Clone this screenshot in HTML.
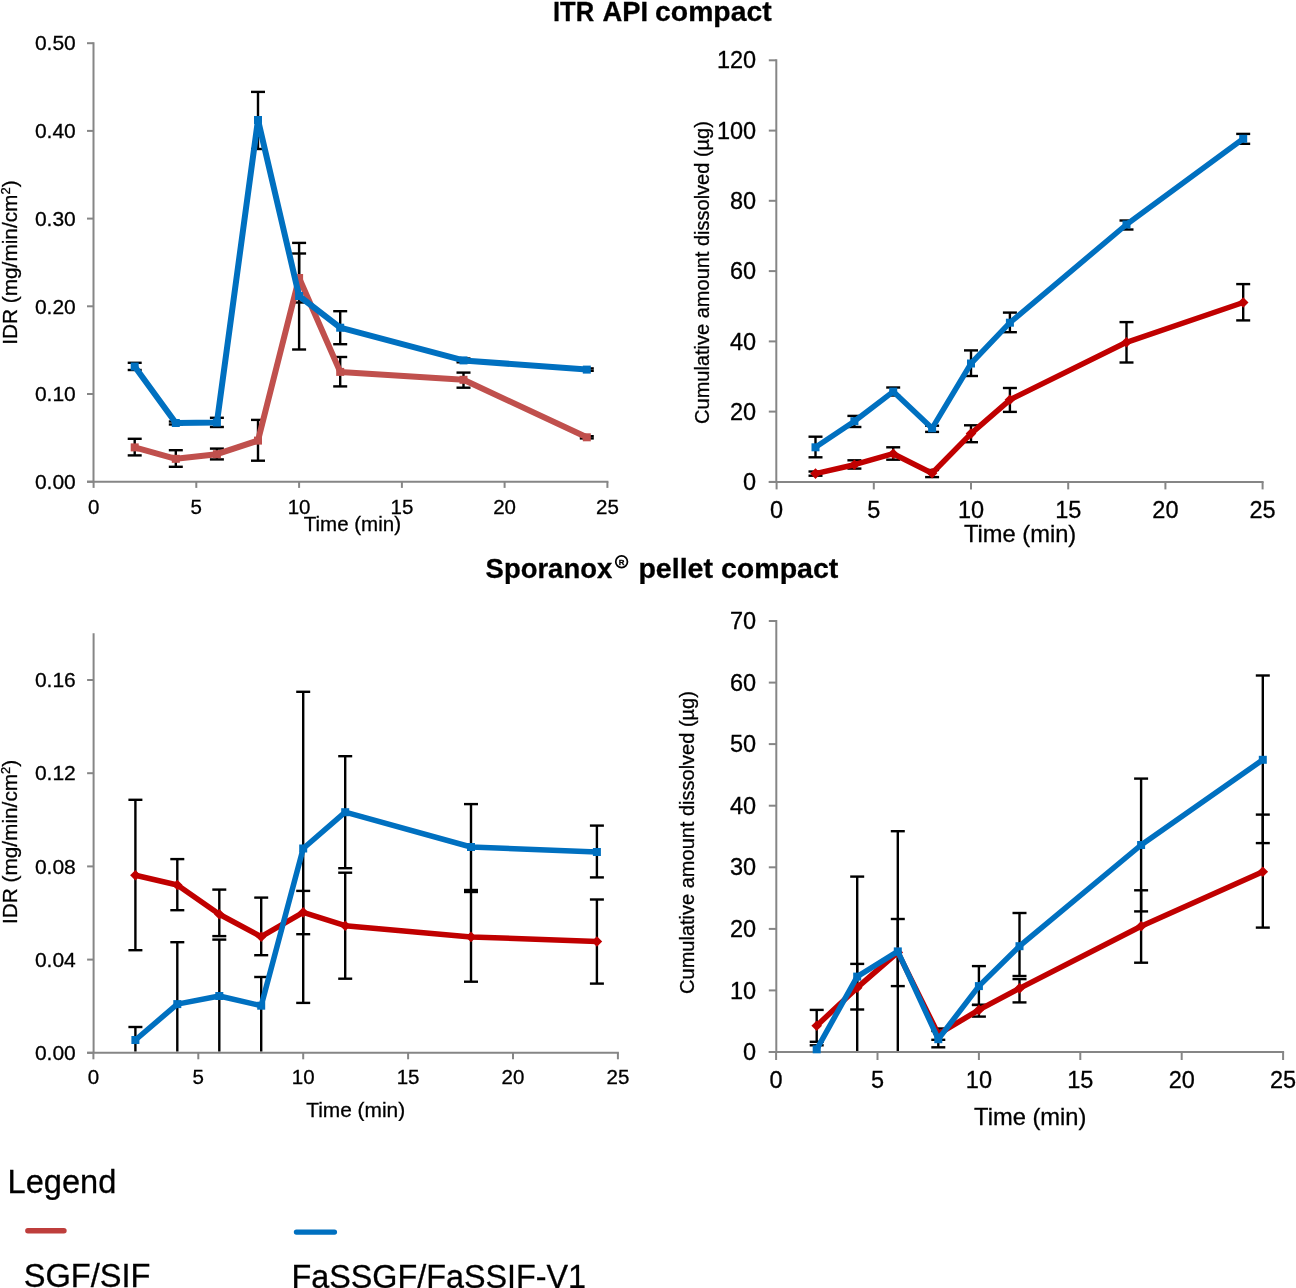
<!DOCTYPE html>
<html><head><meta charset="utf-8"><style>
html,body{margin:0;padding:0;background:#fff;}
svg{display:block;font-family:'Liberation Sans', sans-serif;}
text{filter:grayscale(1);stroke:#000;stroke-width:0.3px;}
</style></head><body>
<svg width="1296" height="1288" viewBox="0 0 1296 1288">
<rect width="1296" height="1288" fill="#fff"/>
<line x1="93.5" y1="42.2" x2="93.5" y2="481.7" stroke="#868686" stroke-width="2"/>
<line x1="87.0" y1="481.7" x2="608.4" y2="481.7" stroke="#868686" stroke-width="2"/>
<line x1="87.0" y1="481.7" x2="93.5" y2="481.7" stroke="#868686" stroke-width="2"/>
<text x="75.8" y="488.9" font-size="21" text-anchor="end">0.00</text>
<line x1="87.0" y1="394.0" x2="93.5" y2="394.0" stroke="#868686" stroke-width="2"/>
<text x="75.8" y="401.2" font-size="21" text-anchor="end">0.10</text>
<line x1="87.0" y1="306.3" x2="93.5" y2="306.3" stroke="#868686" stroke-width="2"/>
<text x="75.8" y="313.5" font-size="21" text-anchor="end">0.20</text>
<line x1="87.0" y1="218.6" x2="93.5" y2="218.6" stroke="#868686" stroke-width="2"/>
<text x="75.8" y="225.8" font-size="21" text-anchor="end">0.30</text>
<line x1="87.0" y1="130.9" x2="93.5" y2="130.9" stroke="#868686" stroke-width="2"/>
<text x="75.8" y="138.1" font-size="21" text-anchor="end">0.40</text>
<line x1="87.0" y1="43.2" x2="93.5" y2="43.2" stroke="#868686" stroke-width="2"/>
<text x="75.8" y="50.4" font-size="21" text-anchor="end">0.50</text>
<line x1="93.6" y1="481.7" x2="93.6" y2="487.9" stroke="#868686" stroke-width="2"/>
<text x="93.6" y="513.6" font-size="20.5" text-anchor="middle">0</text>
<line x1="196.3" y1="481.7" x2="196.3" y2="487.9" stroke="#868686" stroke-width="2"/>
<text x="196.3" y="513.6" font-size="20.5" text-anchor="middle">5</text>
<line x1="299.1" y1="481.7" x2="299.1" y2="487.9" stroke="#868686" stroke-width="2"/>
<text x="299.1" y="513.6" font-size="20.5" text-anchor="middle">10</text>
<line x1="401.9" y1="481.7" x2="401.9" y2="487.9" stroke="#868686" stroke-width="2"/>
<text x="401.9" y="513.6" font-size="20.5" text-anchor="middle">15</text>
<line x1="504.6" y1="481.7" x2="504.6" y2="487.9" stroke="#868686" stroke-width="2"/>
<text x="504.6" y="513.6" font-size="20.5" text-anchor="middle">20</text>
<line x1="607.4" y1="481.7" x2="607.4" y2="487.9" stroke="#868686" stroke-width="2"/>
<text x="607.4" y="513.6" font-size="20.5" text-anchor="middle">25</text>
<text x="352.4" y="531" font-size="20.5" text-anchor="middle">Time (min)</text>
<text transform="translate(16.6,262.6) rotate(-90)" font-size="20.8" text-anchor="middle">IDR (mg/min/cm<tspan font-size="13" dy="-7">2</tspan><tspan dy="7">)</tspan></text>
<line x1="134.7" y1="362.8" x2="134.7" y2="370" stroke="#000" stroke-width="2.4"/>
<line x1="127.69999999999999" y1="362.8" x2="141.7" y2="362.8" stroke="#000" stroke-width="2.4"/>
<line x1="127.69999999999999" y1="370" x2="141.7" y2="370" stroke="#000" stroke-width="2.4"/>
<line x1="175.8" y1="421.5" x2="175.8" y2="424.5" stroke="#000" stroke-width="2.4"/>
<line x1="168.8" y1="421.5" x2="182.8" y2="421.5" stroke="#000" stroke-width="2.4"/>
<line x1="168.8" y1="424.5" x2="182.8" y2="424.5" stroke="#000" stroke-width="2.4"/>
<line x1="216.9" y1="417.8" x2="216.9" y2="427" stroke="#000" stroke-width="2.4"/>
<line x1="209.9" y1="417.8" x2="223.9" y2="417.8" stroke="#000" stroke-width="2.4"/>
<line x1="209.9" y1="427" x2="223.9" y2="427" stroke="#000" stroke-width="2.4"/>
<line x1="258.0" y1="91.9" x2="258.0" y2="149" stroke="#000" stroke-width="2.4"/>
<line x1="251.0" y1="91.9" x2="265.0" y2="91.9" stroke="#000" stroke-width="2.4"/>
<line x1="251.0" y1="149" x2="265.0" y2="149" stroke="#000" stroke-width="2.4"/>
<line x1="299.1" y1="242.9" x2="299.1" y2="349.5" stroke="#000" stroke-width="2.4"/>
<line x1="292.1" y1="242.9" x2="306.1" y2="242.9" stroke="#000" stroke-width="2.4"/>
<line x1="292.1" y1="349.5" x2="306.1" y2="349.5" stroke="#000" stroke-width="2.4"/>
<line x1="340.2" y1="311.2" x2="340.2" y2="344.2" stroke="#000" stroke-width="2.4"/>
<line x1="333.2" y1="311.2" x2="347.2" y2="311.2" stroke="#000" stroke-width="2.4"/>
<line x1="333.2" y1="344.2" x2="347.2" y2="344.2" stroke="#000" stroke-width="2.4"/>
<line x1="463.5" y1="358.5" x2="463.5" y2="362.3" stroke="#000" stroke-width="2.4"/>
<line x1="456.5" y1="358.5" x2="470.5" y2="358.5" stroke="#000" stroke-width="2.4"/>
<line x1="456.5" y1="362.3" x2="470.5" y2="362.3" stroke="#000" stroke-width="2.4"/>
<line x1="586.8" y1="368.4" x2="586.8" y2="370.8" stroke="#000" stroke-width="2.4"/>
<line x1="579.8" y1="368.4" x2="593.8" y2="368.4" stroke="#000" stroke-width="2.4"/>
<line x1="579.8" y1="370.8" x2="593.8" y2="370.8" stroke="#000" stroke-width="2.4"/>
<line x1="134.7" y1="438.8" x2="134.7" y2="455.4" stroke="#000" stroke-width="2.4"/>
<line x1="127.69999999999999" y1="438.8" x2="141.7" y2="438.8" stroke="#000" stroke-width="2.4"/>
<line x1="127.69999999999999" y1="455.4" x2="141.7" y2="455.4" stroke="#000" stroke-width="2.4"/>
<line x1="175.8" y1="450.2" x2="175.8" y2="466.8" stroke="#000" stroke-width="2.4"/>
<line x1="168.8" y1="450.2" x2="182.8" y2="450.2" stroke="#000" stroke-width="2.4"/>
<line x1="168.8" y1="466.8" x2="182.8" y2="466.8" stroke="#000" stroke-width="2.4"/>
<line x1="216.9" y1="448.6" x2="216.9" y2="459.4" stroke="#000" stroke-width="2.4"/>
<line x1="209.9" y1="448.6" x2="223.9" y2="448.6" stroke="#000" stroke-width="2.4"/>
<line x1="209.9" y1="459.4" x2="223.9" y2="459.4" stroke="#000" stroke-width="2.4"/>
<line x1="258.0" y1="419.9" x2="258.0" y2="460.7" stroke="#000" stroke-width="2.4"/>
<line x1="251.0" y1="419.9" x2="265.0" y2="419.9" stroke="#000" stroke-width="2.4"/>
<line x1="251.0" y1="460.7" x2="265.0" y2="460.7" stroke="#000" stroke-width="2.4"/>
<line x1="299.1" y1="253.5" x2="299.1" y2="302.5" stroke="#000" stroke-width="2.4"/>
<line x1="292.1" y1="253.5" x2="306.1" y2="253.5" stroke="#000" stroke-width="2.4"/>
<line x1="292.1" y1="302.5" x2="306.1" y2="302.5" stroke="#000" stroke-width="2.4"/>
<line x1="340.2" y1="357" x2="340.2" y2="386.4" stroke="#000" stroke-width="2.4"/>
<line x1="333.2" y1="357" x2="347.2" y2="357" stroke="#000" stroke-width="2.4"/>
<line x1="333.2" y1="386.4" x2="347.2" y2="386.4" stroke="#000" stroke-width="2.4"/>
<line x1="463.5" y1="372.6" x2="463.5" y2="387.7" stroke="#000" stroke-width="2.4"/>
<line x1="456.5" y1="372.6" x2="470.5" y2="372.6" stroke="#000" stroke-width="2.4"/>
<line x1="456.5" y1="387.7" x2="470.5" y2="387.7" stroke="#000" stroke-width="2.4"/>
<line x1="586.8" y1="436.2" x2="586.8" y2="438.4" stroke="#000" stroke-width="2.4"/>
<line x1="579.8" y1="436.2" x2="593.8" y2="436.2" stroke="#000" stroke-width="2.4"/>
<line x1="579.8" y1="438.4" x2="593.8" y2="438.4" stroke="#000" stroke-width="2.4"/>
<polyline points="134.7,447.4 175.8,458.8 216.9,454.2 258.0,440.6 299.1,278 340.2,371.9 463.5,379.8 586.8,437.3" fill="none" stroke="#C0504D" stroke-width="6" stroke-linejoin="round"/>
<rect x="130.7" y="443.4" width="8" height="8" fill="#C0504D"/>
<rect x="171.8" y="454.8" width="8" height="8" fill="#C0504D"/>
<rect x="212.9" y="450.2" width="8" height="8" fill="#C0504D"/>
<rect x="254.0" y="436.6" width="8" height="8" fill="#C0504D"/>
<rect x="295.1" y="274.0" width="8" height="8" fill="#C0504D"/>
<rect x="336.2" y="367.9" width="8" height="8" fill="#C0504D"/>
<rect x="459.5" y="375.8" width="8" height="8" fill="#C0504D"/>
<rect x="582.8" y="433.3" width="8" height="8" fill="#C0504D"/>
<polyline points="134.7,366.5 175.8,423 216.9,422.5 258.0,120 299.1,296 340.2,327.7 463.5,360.4 586.8,369.6" fill="none" stroke="#0070C0" stroke-width="6" stroke-linejoin="round"/>
<rect x="130.7" y="362.5" width="8" height="8" fill="#0070C0"/>
<rect x="171.8" y="419.0" width="8" height="8" fill="#0070C0"/>
<rect x="212.9" y="418.5" width="8" height="8" fill="#0070C0"/>
<rect x="254.0" y="116.0" width="8" height="8" fill="#0070C0"/>
<rect x="295.1" y="292.0" width="8" height="8" fill="#0070C0"/>
<rect x="336.2" y="323.7" width="8" height="8" fill="#0070C0"/>
<rect x="459.5" y="356.4" width="8" height="8" fill="#0070C0"/>
<rect x="582.8" y="365.6" width="8" height="8" fill="#0070C0"/>
<line x1="776.3" y1="59.3" x2="776.3" y2="481.9" stroke="#868686" stroke-width="2"/>
<line x1="768.8" y1="481.9" x2="1263.6" y2="481.9" stroke="#868686" stroke-width="2"/>
<line x1="768.8" y1="481.9" x2="776.3" y2="481.9" stroke="#868686" stroke-width="2"/>
<text x="756.2" y="490.0" font-size="23.5" text-anchor="end">0</text>
<line x1="768.8" y1="411.6" x2="776.3" y2="411.6" stroke="#868686" stroke-width="2"/>
<text x="756.2" y="419.7" font-size="23.5" text-anchor="end">20</text>
<line x1="768.8" y1="341.4" x2="776.3" y2="341.4" stroke="#868686" stroke-width="2"/>
<text x="756.2" y="349.5" font-size="23.5" text-anchor="end">40</text>
<line x1="768.8" y1="271.1" x2="776.3" y2="271.1" stroke="#868686" stroke-width="2"/>
<text x="756.2" y="279.2" font-size="23.5" text-anchor="end">60</text>
<line x1="768.8" y1="200.8" x2="776.3" y2="200.8" stroke="#868686" stroke-width="2"/>
<text x="756.2" y="208.9" font-size="23.5" text-anchor="end">80</text>
<line x1="768.8" y1="130.6" x2="776.3" y2="130.6" stroke="#868686" stroke-width="2"/>
<text x="756.2" y="138.7" font-size="23.5" text-anchor="end">100</text>
<line x1="768.8" y1="60.3" x2="776.3" y2="60.3" stroke="#868686" stroke-width="2"/>
<text x="756.2" y="68.4" font-size="23.5" text-anchor="end">120</text>
<line x1="776.6" y1="481.9" x2="776.6" y2="489.4" stroke="#868686" stroke-width="2"/>
<text x="776.6" y="518" font-size="23.5" text-anchor="middle">0</text>
<line x1="873.8" y1="481.9" x2="873.8" y2="489.4" stroke="#868686" stroke-width="2"/>
<text x="873.8" y="518" font-size="23.5" text-anchor="middle">5</text>
<line x1="971.0" y1="481.9" x2="971.0" y2="489.4" stroke="#868686" stroke-width="2"/>
<text x="971.0" y="518" font-size="23.5" text-anchor="middle">10</text>
<line x1="1068.2" y1="481.9" x2="1068.2" y2="489.4" stroke="#868686" stroke-width="2"/>
<text x="1068.2" y="518" font-size="23.5" text-anchor="middle">15</text>
<line x1="1165.4" y1="481.9" x2="1165.4" y2="489.4" stroke="#868686" stroke-width="2"/>
<text x="1165.4" y="518" font-size="23.5" text-anchor="middle">20</text>
<line x1="1262.6" y1="481.9" x2="1262.6" y2="489.4" stroke="#868686" stroke-width="2"/>
<text x="1262.6" y="518" font-size="23.5" text-anchor="middle">25</text>
<text x="1020.1" y="542.3" font-size="23.7" text-anchor="middle">Time (min)</text>
<text transform="translate(708.6,272.5) rotate(-90)" font-size="20" text-anchor="middle">Cumulative amount dissolved (µg)</text>
<line x1="815.5" y1="436.7" x2="815.5" y2="457.3" stroke="#000" stroke-width="2.4"/>
<line x1="808.5" y1="436.7" x2="822.5" y2="436.7" stroke="#000" stroke-width="2.4"/>
<line x1="808.5" y1="457.3" x2="822.5" y2="457.3" stroke="#000" stroke-width="2.4"/>
<line x1="854.4" y1="415.9" x2="854.4" y2="427" stroke="#000" stroke-width="2.4"/>
<line x1="847.4" y1="415.9" x2="861.4" y2="415.9" stroke="#000" stroke-width="2.4"/>
<line x1="847.4" y1="427" x2="861.4" y2="427" stroke="#000" stroke-width="2.4"/>
<line x1="893.2" y1="387.5" x2="893.2" y2="395.5" stroke="#000" stroke-width="2.4"/>
<line x1="886.2" y1="387.5" x2="900.2" y2="387.5" stroke="#000" stroke-width="2.4"/>
<line x1="886.2" y1="395.5" x2="900.2" y2="395.5" stroke="#000" stroke-width="2.4"/>
<line x1="932.1" y1="425.7" x2="932.1" y2="431.9" stroke="#000" stroke-width="2.4"/>
<line x1="925.1" y1="425.7" x2="939.1" y2="425.7" stroke="#000" stroke-width="2.4"/>
<line x1="925.1" y1="431.9" x2="939.1" y2="431.9" stroke="#000" stroke-width="2.4"/>
<line x1="971.0" y1="350.4" x2="971.0" y2="376" stroke="#000" stroke-width="2.4"/>
<line x1="964.0" y1="350.4" x2="978.0" y2="350.4" stroke="#000" stroke-width="2.4"/>
<line x1="964.0" y1="376" x2="978.0" y2="376" stroke="#000" stroke-width="2.4"/>
<line x1="1009.9" y1="312.6" x2="1009.9" y2="332.2" stroke="#000" stroke-width="2.4"/>
<line x1="1002.9" y1="312.6" x2="1016.9" y2="312.6" stroke="#000" stroke-width="2.4"/>
<line x1="1002.9" y1="332.2" x2="1016.9" y2="332.2" stroke="#000" stroke-width="2.4"/>
<line x1="1126.5" y1="220.5" x2="1126.5" y2="229.5" stroke="#000" stroke-width="2.4"/>
<line x1="1119.5" y1="220.5" x2="1133.5" y2="220.5" stroke="#000" stroke-width="2.4"/>
<line x1="1119.5" y1="229.5" x2="1133.5" y2="229.5" stroke="#000" stroke-width="2.4"/>
<line x1="1243.2" y1="133.9" x2="1243.2" y2="143.8" stroke="#000" stroke-width="2.4"/>
<line x1="1236.2" y1="133.9" x2="1250.2" y2="133.9" stroke="#000" stroke-width="2.4"/>
<line x1="1236.2" y1="143.8" x2="1250.2" y2="143.8" stroke="#000" stroke-width="2.4"/>
<line x1="815.5" y1="471.5" x2="815.5" y2="475.7" stroke="#000" stroke-width="2.4"/>
<line x1="808.5" y1="471.5" x2="822.5" y2="471.5" stroke="#000" stroke-width="2.4"/>
<line x1="808.5" y1="475.7" x2="822.5" y2="475.7" stroke="#000" stroke-width="2.4"/>
<line x1="854.4" y1="460.3" x2="854.4" y2="468.6" stroke="#000" stroke-width="2.4"/>
<line x1="847.4" y1="460.3" x2="861.4" y2="460.3" stroke="#000" stroke-width="2.4"/>
<line x1="847.4" y1="468.6" x2="861.4" y2="468.6" stroke="#000" stroke-width="2.4"/>
<line x1="893.2" y1="447.3" x2="893.2" y2="459.7" stroke="#000" stroke-width="2.4"/>
<line x1="886.2" y1="447.3" x2="900.2" y2="447.3" stroke="#000" stroke-width="2.4"/>
<line x1="886.2" y1="459.7" x2="900.2" y2="459.7" stroke="#000" stroke-width="2.4"/>
<line x1="932.1" y1="470" x2="932.1" y2="477.1" stroke="#000" stroke-width="2.4"/>
<line x1="925.1" y1="470" x2="939.1" y2="470" stroke="#000" stroke-width="2.4"/>
<line x1="925.1" y1="477.1" x2="939.1" y2="477.1" stroke="#000" stroke-width="2.4"/>
<line x1="971.0" y1="425.3" x2="971.0" y2="442.2" stroke="#000" stroke-width="2.4"/>
<line x1="964.0" y1="425.3" x2="978.0" y2="425.3" stroke="#000" stroke-width="2.4"/>
<line x1="964.0" y1="442.2" x2="978.0" y2="442.2" stroke="#000" stroke-width="2.4"/>
<line x1="1009.9" y1="388" x2="1009.9" y2="411.9" stroke="#000" stroke-width="2.4"/>
<line x1="1002.9" y1="388" x2="1016.9" y2="388" stroke="#000" stroke-width="2.4"/>
<line x1="1002.9" y1="411.9" x2="1016.9" y2="411.9" stroke="#000" stroke-width="2.4"/>
<line x1="1126.5" y1="322.1" x2="1126.5" y2="362.5" stroke="#000" stroke-width="2.4"/>
<line x1="1119.5" y1="322.1" x2="1133.5" y2="322.1" stroke="#000" stroke-width="2.4"/>
<line x1="1119.5" y1="362.5" x2="1133.5" y2="362.5" stroke="#000" stroke-width="2.4"/>
<line x1="1243.2" y1="284.1" x2="1243.2" y2="320.4" stroke="#000" stroke-width="2.4"/>
<line x1="1236.2" y1="284.1" x2="1250.2" y2="284.1" stroke="#000" stroke-width="2.4"/>
<line x1="1236.2" y1="320.4" x2="1250.2" y2="320.4" stroke="#000" stroke-width="2.4"/>
<polyline points="815.5,473.6 854.4,464.7 893.2,453.7 932.1,473.2 971.0,433.6 1009.9,399.8 1126.5,342.3 1243.2,302.5" fill="none" stroke="#C00000" stroke-width="5.5" stroke-linejoin="round"/>
<polygon points="815.5,468.3 820.8,473.6 815.5,478.90000000000003 810.2,473.6" fill="#C00000"/>
<polygon points="854.4,459.4 859.6999999999999,464.7 854.4,470.0 849.1,464.7" fill="#C00000"/>
<polygon points="893.2,448.4 898.5,453.7 893.2,459.0 887.9000000000001,453.7" fill="#C00000"/>
<polygon points="932.1,467.9 937.4,473.2 932.1,478.5 926.8000000000001,473.2" fill="#C00000"/>
<polygon points="971.0,428.3 976.3,433.6 971.0,438.90000000000003 965.7,433.6" fill="#C00000"/>
<polygon points="1009.9,394.5 1015.1999999999999,399.8 1009.9,405.1 1004.6,399.8" fill="#C00000"/>
<polygon points="1126.5,337.0 1131.8,342.3 1126.5,347.6 1121.2,342.3" fill="#C00000"/>
<polygon points="1243.2,297.2 1248.5,302.5 1243.2,307.8 1237.9,302.5" fill="#C00000"/>
<polyline points="815.5,447.3 854.4,421.2 893.2,391.6 932.1,428.3 971.0,363.5 1009.9,322.7 1126.5,224.5 1243.2,138.8" fill="none" stroke="#0070C0" stroke-width="5.5" stroke-linejoin="round"/>
<rect x="811.5" y="443.3" width="8" height="8" fill="#0070C0"/>
<rect x="850.4" y="417.2" width="8" height="8" fill="#0070C0"/>
<rect x="889.2" y="387.6" width="8" height="8" fill="#0070C0"/>
<rect x="928.1" y="424.3" width="8" height="8" fill="#0070C0"/>
<rect x="967.0" y="359.5" width="8" height="8" fill="#0070C0"/>
<rect x="1005.9" y="318.7" width="8" height="8" fill="#0070C0"/>
<rect x="1122.5" y="220.5" width="8" height="8" fill="#0070C0"/>
<rect x="1239.2" y="134.8" width="8" height="8" fill="#0070C0"/>
<line x1="93.6" y1="633.2" x2="93.6" y2="1052.8" stroke="#868686" stroke-width="2"/>
<line x1="87.1" y1="1052.8" x2="618.9" y2="1052.8" stroke="#868686" stroke-width="2"/>
<line x1="87.1" y1="1052.8" x2="93.6" y2="1052.8" stroke="#868686" stroke-width="2"/>
<text x="75.8" y="1060.0" font-size="21" text-anchor="end">0.00</text>
<line x1="87.1" y1="959.6" x2="93.6" y2="959.6" stroke="#868686" stroke-width="2"/>
<text x="75.8" y="966.8" font-size="21" text-anchor="end">0.04</text>
<line x1="87.1" y1="866.4" x2="93.6" y2="866.4" stroke="#868686" stroke-width="2"/>
<text x="75.8" y="873.6" font-size="21" text-anchor="end">0.08</text>
<line x1="87.1" y1="773.2" x2="93.6" y2="773.2" stroke="#868686" stroke-width="2"/>
<text x="75.8" y="780.4" font-size="21" text-anchor="end">0.12</text>
<line x1="87.1" y1="680.0" x2="93.6" y2="680.0" stroke="#868686" stroke-width="2"/>
<text x="75.8" y="687.2" font-size="21" text-anchor="end">0.16</text>
<line x1="93.4" y1="1052.8" x2="93.4" y2="1059.3" stroke="#868686" stroke-width="2"/>
<text x="93.4" y="1083.7" font-size="20.5" text-anchor="middle">0</text>
<line x1="198.3" y1="1052.8" x2="198.3" y2="1059.3" stroke="#868686" stroke-width="2"/>
<text x="198.3" y="1083.7" font-size="20.5" text-anchor="middle">5</text>
<line x1="303.2" y1="1052.8" x2="303.2" y2="1059.3" stroke="#868686" stroke-width="2"/>
<text x="303.2" y="1083.7" font-size="20.5" text-anchor="middle">10</text>
<line x1="408.1" y1="1052.8" x2="408.1" y2="1059.3" stroke="#868686" stroke-width="2"/>
<text x="408.1" y="1083.7" font-size="20.5" text-anchor="middle">15</text>
<line x1="513.0" y1="1052.8" x2="513.0" y2="1059.3" stroke="#868686" stroke-width="2"/>
<text x="513.0" y="1083.7" font-size="20.5" text-anchor="middle">20</text>
<line x1="617.9" y1="1052.8" x2="617.9" y2="1059.3" stroke="#868686" stroke-width="2"/>
<text x="617.9" y="1083.7" font-size="20.5" text-anchor="middle">25</text>
<text x="355.7" y="1116.7" font-size="20.9" text-anchor="middle">Time (min)</text>
<text transform="translate(16.6,841.9) rotate(-90)" font-size="20.8" text-anchor="middle">IDR (mg/min/cm<tspan font-size="13" dy="-7">2</tspan><tspan dy="7">)</tspan></text>
<line x1="135.4" y1="1027" x2="135.4" y2="1051.5" stroke="#000" stroke-width="2.4"/>
<line x1="128.4" y1="1027" x2="142.4" y2="1027" stroke="#000" stroke-width="2.4"/>
<line x1="177.3" y1="942.2" x2="177.3" y2="1051.5" stroke="#000" stroke-width="2.4"/>
<line x1="170.3" y1="942.2" x2="184.3" y2="942.2" stroke="#000" stroke-width="2.4"/>
<line x1="219.3" y1="939.6" x2="219.3" y2="1051.5" stroke="#000" stroke-width="2.4"/>
<line x1="212.3" y1="939.6" x2="226.3" y2="939.6" stroke="#000" stroke-width="2.4"/>
<line x1="261.2" y1="977" x2="261.2" y2="1051.5" stroke="#000" stroke-width="2.4"/>
<line x1="254.2" y1="977" x2="268.2" y2="977" stroke="#000" stroke-width="2.4"/>
<line x1="303.2" y1="691.8" x2="303.2" y2="1002.9" stroke="#000" stroke-width="2.4"/>
<line x1="296.2" y1="691.8" x2="310.2" y2="691.8" stroke="#000" stroke-width="2.4"/>
<line x1="296.2" y1="1002.9" x2="310.2" y2="1002.9" stroke="#000" stroke-width="2.4"/>
<line x1="345.2" y1="756.2" x2="345.2" y2="868.2" stroke="#000" stroke-width="2.4"/>
<line x1="338.2" y1="756.2" x2="352.2" y2="756.2" stroke="#000" stroke-width="2.4"/>
<line x1="338.2" y1="868.2" x2="352.2" y2="868.2" stroke="#000" stroke-width="2.4"/>
<line x1="471.0" y1="804.1" x2="471.0" y2="890" stroke="#000" stroke-width="2.4"/>
<line x1="464.0" y1="804.1" x2="478.0" y2="804.1" stroke="#000" stroke-width="2.4"/>
<line x1="464.0" y1="890" x2="478.0" y2="890" stroke="#000" stroke-width="2.4"/>
<line x1="596.9" y1="825.6" x2="596.9" y2="877.4" stroke="#000" stroke-width="2.4"/>
<line x1="589.9" y1="825.6" x2="603.9" y2="825.6" stroke="#000" stroke-width="2.4"/>
<line x1="589.9" y1="877.4" x2="603.9" y2="877.4" stroke="#000" stroke-width="2.4"/>
<line x1="135.4" y1="799.8" x2="135.4" y2="950.2" stroke="#000" stroke-width="2.4"/>
<line x1="128.4" y1="799.8" x2="142.4" y2="799.8" stroke="#000" stroke-width="2.4"/>
<line x1="128.4" y1="950.2" x2="142.4" y2="950.2" stroke="#000" stroke-width="2.4"/>
<line x1="177.3" y1="859.1" x2="177.3" y2="910.2" stroke="#000" stroke-width="2.4"/>
<line x1="170.3" y1="859.1" x2="184.3" y2="859.1" stroke="#000" stroke-width="2.4"/>
<line x1="170.3" y1="910.2" x2="184.3" y2="910.2" stroke="#000" stroke-width="2.4"/>
<line x1="219.3" y1="889.6" x2="219.3" y2="936.1" stroke="#000" stroke-width="2.4"/>
<line x1="212.3" y1="889.6" x2="226.3" y2="889.6" stroke="#000" stroke-width="2.4"/>
<line x1="212.3" y1="936.1" x2="226.3" y2="936.1" stroke="#000" stroke-width="2.4"/>
<line x1="261.2" y1="897.6" x2="261.2" y2="955.2" stroke="#000" stroke-width="2.4"/>
<line x1="254.2" y1="897.6" x2="268.2" y2="897.6" stroke="#000" stroke-width="2.4"/>
<line x1="254.2" y1="955.2" x2="268.2" y2="955.2" stroke="#000" stroke-width="2.4"/>
<line x1="303.2" y1="890.9" x2="303.2" y2="934.2" stroke="#000" stroke-width="2.4"/>
<line x1="296.2" y1="890.9" x2="310.2" y2="890.9" stroke="#000" stroke-width="2.4"/>
<line x1="296.2" y1="934.2" x2="310.2" y2="934.2" stroke="#000" stroke-width="2.4"/>
<line x1="345.2" y1="872.7" x2="345.2" y2="978.7" stroke="#000" stroke-width="2.4"/>
<line x1="338.2" y1="872.7" x2="352.2" y2="872.7" stroke="#000" stroke-width="2.4"/>
<line x1="338.2" y1="978.7" x2="352.2" y2="978.7" stroke="#000" stroke-width="2.4"/>
<line x1="471.0" y1="892" x2="471.0" y2="981.7" stroke="#000" stroke-width="2.4"/>
<line x1="464.0" y1="892" x2="478.0" y2="892" stroke="#000" stroke-width="2.4"/>
<line x1="464.0" y1="981.7" x2="478.0" y2="981.7" stroke="#000" stroke-width="2.4"/>
<line x1="596.9" y1="899.5" x2="596.9" y2="983.6" stroke="#000" stroke-width="2.4"/>
<line x1="589.9" y1="899.5" x2="603.9" y2="899.5" stroke="#000" stroke-width="2.4"/>
<line x1="589.9" y1="983.6" x2="603.9" y2="983.6" stroke="#000" stroke-width="2.4"/>
<polyline points="135.4,875.2 177.3,885 219.3,914.3 261.2,936.7 303.2,912.4 345.2,925.7 471.0,936.9 596.9,941.5" fill="none" stroke="#C00000" stroke-width="5.5" stroke-linejoin="round"/>
<polygon points="135.4,869.9000000000001 140.70000000000002,875.2 135.4,880.5 130.1,875.2" fill="#C00000"/>
<polygon points="177.3,879.7 182.60000000000002,885 177.3,890.3 172.0,885" fill="#C00000"/>
<polygon points="219.3,909.0 224.60000000000002,914.3 219.3,919.5999999999999 214.0,914.3" fill="#C00000"/>
<polygon points="261.2,931.4000000000001 266.5,936.7 261.2,942.0 255.89999999999998,936.7" fill="#C00000"/>
<polygon points="303.2,907.1 308.5,912.4 303.2,917.6999999999999 297.9,912.4" fill="#C00000"/>
<polygon points="345.2,920.4000000000001 350.5,925.7 345.2,931.0 339.9,925.7" fill="#C00000"/>
<polygon points="471.0,931.6 476.3,936.9 471.0,942.1999999999999 465.7,936.9" fill="#C00000"/>
<polygon points="596.9,936.2 602.1999999999999,941.5 596.9,946.8 591.6,941.5" fill="#C00000"/>
<polyline points="135.4,1040 177.3,1004.1 219.3,996 261.2,1005.7 303.2,848.5 345.2,812.2 471.0,847 596.9,852" fill="none" stroke="#0070C0" stroke-width="5.5" stroke-linejoin="round"/>
<rect x="131.4" y="1036.0" width="8" height="8" fill="#0070C0"/>
<rect x="173.3" y="1000.1" width="8" height="8" fill="#0070C0"/>
<rect x="215.3" y="992.0" width="8" height="8" fill="#0070C0"/>
<rect x="257.2" y="1001.7" width="8" height="8" fill="#0070C0"/>
<rect x="299.2" y="844.5" width="8" height="8" fill="#0070C0"/>
<rect x="341.2" y="808.2" width="8" height="8" fill="#0070C0"/>
<rect x="467.0" y="843.0" width="8" height="8" fill="#0070C0"/>
<rect x="592.9" y="848.0" width="8" height="8" fill="#0070C0"/>
<line x1="776.3" y1="620" x2="776.3" y2="1052.0" stroke="#868686" stroke-width="2"/>
<line x1="768.8" y1="1052.0" x2="1284.1" y2="1052.0" stroke="#868686" stroke-width="2"/>
<line x1="768.8" y1="1052.0" x2="776.3" y2="1052.0" stroke="#868686" stroke-width="2"/>
<text x="756.2" y="1060.1" font-size="23.5" text-anchor="end">0</text>
<line x1="768.8" y1="990.4" x2="776.3" y2="990.4" stroke="#868686" stroke-width="2"/>
<text x="756.2" y="998.5" font-size="23.5" text-anchor="end">10</text>
<line x1="768.8" y1="928.9" x2="776.3" y2="928.9" stroke="#868686" stroke-width="2"/>
<text x="756.2" y="937.0" font-size="23.5" text-anchor="end">20</text>
<line x1="768.8" y1="867.3" x2="776.3" y2="867.3" stroke="#868686" stroke-width="2"/>
<text x="756.2" y="875.4" font-size="23.5" text-anchor="end">30</text>
<line x1="768.8" y1="805.7" x2="776.3" y2="805.7" stroke="#868686" stroke-width="2"/>
<text x="756.2" y="813.8" font-size="23.5" text-anchor="end">40</text>
<line x1="768.8" y1="744.1" x2="776.3" y2="744.1" stroke="#868686" stroke-width="2"/>
<text x="756.2" y="752.2" font-size="23.5" text-anchor="end">50</text>
<line x1="768.8" y1="682.6" x2="776.3" y2="682.6" stroke="#868686" stroke-width="2"/>
<text x="756.2" y="690.7" font-size="23.5" text-anchor="end">60</text>
<line x1="768.8" y1="621.0" x2="776.3" y2="621.0" stroke="#868686" stroke-width="2"/>
<text x="756.2" y="629.1" font-size="23.5" text-anchor="end">70</text>
<line x1="776.1" y1="1052.0" x2="776.1" y2="1060.0" stroke="#868686" stroke-width="2"/>
<text x="776.1" y="1088.3" font-size="23.5" text-anchor="middle">0</text>
<line x1="877.5" y1="1052.0" x2="877.5" y2="1060.0" stroke="#868686" stroke-width="2"/>
<text x="877.5" y="1088.3" font-size="23.5" text-anchor="middle">5</text>
<line x1="978.9" y1="1052.0" x2="978.9" y2="1060.0" stroke="#868686" stroke-width="2"/>
<text x="978.9" y="1088.3" font-size="23.5" text-anchor="middle">10</text>
<line x1="1080.3" y1="1052.0" x2="1080.3" y2="1060.0" stroke="#868686" stroke-width="2"/>
<text x="1080.3" y="1088.3" font-size="23.5" text-anchor="middle">15</text>
<line x1="1181.7" y1="1052.0" x2="1181.7" y2="1060.0" stroke="#868686" stroke-width="2"/>
<text x="1181.7" y="1088.3" font-size="23.5" text-anchor="middle">20</text>
<line x1="1283.1" y1="1052.0" x2="1283.1" y2="1060.0" stroke="#868686" stroke-width="2"/>
<text x="1283.1" y="1088.3" font-size="23.5" text-anchor="middle">25</text>
<text x="1030.2" y="1125" font-size="23.7" text-anchor="middle">Time (min)</text>
<text transform="translate(694,842.5) rotate(-90)" font-size="20" text-anchor="middle">Cumulative amount dissolved (µg)</text>
<line x1="816.7" y1="1045.3" x2="816.7" y2="1051" stroke="#000" stroke-width="2.4"/>
<line x1="809.7" y1="1045.3" x2="823.7" y2="1045.3" stroke="#000" stroke-width="2.4"/>
<line x1="857.2" y1="876.6" x2="857.2" y2="1051" stroke="#000" stroke-width="2.4"/>
<line x1="850.2" y1="876.6" x2="864.2" y2="876.6" stroke="#000" stroke-width="2.4"/>
<line x1="897.8" y1="831.2" x2="897.8" y2="1051" stroke="#000" stroke-width="2.4"/>
<line x1="890.8" y1="831.2" x2="904.8" y2="831.2" stroke="#000" stroke-width="2.4"/>
<line x1="938.3" y1="1031" x2="938.3" y2="1047.3" stroke="#000" stroke-width="2.4"/>
<line x1="931.3" y1="1031" x2="945.3" y2="1031" stroke="#000" stroke-width="2.4"/>
<line x1="931.3" y1="1047.3" x2="945.3" y2="1047.3" stroke="#000" stroke-width="2.4"/>
<line x1="978.9" y1="966.1" x2="978.9" y2="1004.9" stroke="#000" stroke-width="2.4"/>
<line x1="971.9" y1="966.1" x2="985.9" y2="966.1" stroke="#000" stroke-width="2.4"/>
<line x1="971.9" y1="1004.9" x2="985.9" y2="1004.9" stroke="#000" stroke-width="2.4"/>
<line x1="1019.5" y1="913" x2="1019.5" y2="976" stroke="#000" stroke-width="2.4"/>
<line x1="1012.5" y1="913" x2="1026.5" y2="913" stroke="#000" stroke-width="2.4"/>
<line x1="1012.5" y1="976" x2="1026.5" y2="976" stroke="#000" stroke-width="2.4"/>
<line x1="1141.1" y1="778.6" x2="1141.1" y2="911.4" stroke="#000" stroke-width="2.4"/>
<line x1="1134.1" y1="778.6" x2="1148.1" y2="778.6" stroke="#000" stroke-width="2.4"/>
<line x1="1134.1" y1="911.4" x2="1148.1" y2="911.4" stroke="#000" stroke-width="2.4"/>
<line x1="1262.8" y1="675.5" x2="1262.8" y2="843.1" stroke="#000" stroke-width="2.4"/>
<line x1="1255.8" y1="675.5" x2="1269.8" y2="675.5" stroke="#000" stroke-width="2.4"/>
<line x1="1255.8" y1="843.1" x2="1269.8" y2="843.1" stroke="#000" stroke-width="2.4"/>
<line x1="816.7" y1="1009.9" x2="816.7" y2="1041.8" stroke="#000" stroke-width="2.4"/>
<line x1="809.7" y1="1009.9" x2="823.7" y2="1009.9" stroke="#000" stroke-width="2.4"/>
<line x1="809.7" y1="1041.8" x2="823.7" y2="1041.8" stroke="#000" stroke-width="2.4"/>
<line x1="857.2" y1="963.9" x2="857.2" y2="1009.5" stroke="#000" stroke-width="2.4"/>
<line x1="850.2" y1="963.9" x2="864.2" y2="963.9" stroke="#000" stroke-width="2.4"/>
<line x1="850.2" y1="1009.5" x2="864.2" y2="1009.5" stroke="#000" stroke-width="2.4"/>
<line x1="897.8" y1="919" x2="897.8" y2="986.1" stroke="#000" stroke-width="2.4"/>
<line x1="890.8" y1="919" x2="904.8" y2="919" stroke="#000" stroke-width="2.4"/>
<line x1="890.8" y1="986.1" x2="904.8" y2="986.1" stroke="#000" stroke-width="2.4"/>
<line x1="938.3" y1="1028.5" x2="938.3" y2="1039.8" stroke="#000" stroke-width="2.4"/>
<line x1="931.3" y1="1028.5" x2="945.3" y2="1028.5" stroke="#000" stroke-width="2.4"/>
<line x1="931.3" y1="1039.8" x2="945.3" y2="1039.8" stroke="#000" stroke-width="2.4"/>
<line x1="978.9" y1="1004.9" x2="978.9" y2="1016.6" stroke="#000" stroke-width="2.4"/>
<line x1="971.9" y1="1004.9" x2="985.9" y2="1004.9" stroke="#000" stroke-width="2.4"/>
<line x1="971.9" y1="1016.6" x2="985.9" y2="1016.6" stroke="#000" stroke-width="2.4"/>
<line x1="1019.5" y1="979.1" x2="1019.5" y2="1002.4" stroke="#000" stroke-width="2.4"/>
<line x1="1012.5" y1="979.1" x2="1026.5" y2="979.1" stroke="#000" stroke-width="2.4"/>
<line x1="1012.5" y1="1002.4" x2="1026.5" y2="1002.4" stroke="#000" stroke-width="2.4"/>
<line x1="1141.1" y1="890.3" x2="1141.1" y2="962.7" stroke="#000" stroke-width="2.4"/>
<line x1="1134.1" y1="890.3" x2="1148.1" y2="890.3" stroke="#000" stroke-width="2.4"/>
<line x1="1134.1" y1="962.7" x2="1148.1" y2="962.7" stroke="#000" stroke-width="2.4"/>
<line x1="1262.8" y1="814.6" x2="1262.8" y2="927.6" stroke="#000" stroke-width="2.4"/>
<line x1="1255.8" y1="814.6" x2="1269.8" y2="814.6" stroke="#000" stroke-width="2.4"/>
<line x1="1255.8" y1="927.6" x2="1269.8" y2="927.6" stroke="#000" stroke-width="2.4"/>
<polyline points="816.7,1025.7 857.2,987.7 897.8,952.4 938.3,1034.2 978.9,1009.9 1019.5,988.4 1141.1,926.3 1262.8,871.7" fill="none" stroke="#C00000" stroke-width="5.5" stroke-linejoin="round"/>
<polygon points="816.7,1020.4000000000001 822.0,1025.7 816.7,1031.0 811.4000000000001,1025.7" fill="#C00000"/>
<polygon points="857.2,982.4000000000001 862.5,987.7 857.2,993.0 851.9000000000001,987.7" fill="#C00000"/>
<polygon points="897.8,947.1 903.0999999999999,952.4 897.8,957.6999999999999 892.5,952.4" fill="#C00000"/>
<polygon points="938.3,1028.9 943.5999999999999,1034.2 938.3,1039.5 933.0,1034.2" fill="#C00000"/>
<polygon points="978.9,1004.6 984.1999999999999,1009.9 978.9,1015.1999999999999 973.6,1009.9" fill="#C00000"/>
<polygon points="1019.5,983.1 1024.8,988.4 1019.5,993.6999999999999 1014.2,988.4" fill="#C00000"/>
<polygon points="1141.1,921.0 1146.3999999999999,926.3 1141.1,931.5999999999999 1135.8,926.3" fill="#C00000"/>
<polygon points="1262.8,866.4000000000001 1268.1,871.7 1262.8,877.0 1257.5,871.7" fill="#C00000"/>
<polyline points="816.7,1049.3 857.2,976.6 897.8,951.4 938.3,1039.2 978.9,986.1 1019.5,946.2 1141.1,845 1262.8,759.8" fill="none" stroke="#0070C0" stroke-width="5.5" stroke-linejoin="round"/>
<rect x="812.7" y="1045.3" width="8" height="8" fill="#0070C0"/>
<rect x="853.2" y="972.6" width="8" height="8" fill="#0070C0"/>
<rect x="893.8" y="947.4" width="8" height="8" fill="#0070C0"/>
<rect x="934.3" y="1035.2" width="8" height="8" fill="#0070C0"/>
<rect x="974.9" y="982.1" width="8" height="8" fill="#0070C0"/>
<rect x="1015.5" y="942.2" width="8" height="8" fill="#0070C0"/>
<rect x="1137.1" y="841.0" width="8" height="8" fill="#0070C0"/>
<rect x="1258.8" y="755.8" width="8" height="8" fill="#0070C0"/>
<text x="553.0" y="20.8" font-size="28" font-weight="bold" textLength="41.2" lengthAdjust="spacingAndGlyphs">ITR</text>
<text x="602.5" y="20.8" font-size="28" font-weight="bold" textLength="45.7" lengthAdjust="spacingAndGlyphs">API</text>
<text x="655.1" y="20.8" font-size="28" font-weight="bold" textLength="116.5" lengthAdjust="spacingAndGlyphs">compact</text>
<text x="485.6" y="577.5" font-size="28" font-weight="bold" textLength="126.6" lengthAdjust="spacingAndGlyphs">Sporanox</text>
<circle cx="621.6" cy="561.8" r="5.85" fill="none" stroke="#000" stroke-width="1.75"/>
<text x="621.7" y="564.8" font-size="7.9" font-weight="bold" text-anchor="middle">R</text>
<text x="638.4" y="577.5" font-size="28" font-weight="bold" textLength="200.0" lengthAdjust="spacingAndGlyphs">pellet compact</text>
<text x="7.6" y="1192.7" font-size="32.6">Legend</text>
<line x1="27.9" y1="1230.65" x2="63.9" y2="1230.65" stroke="#BE3E3C" stroke-width="5.5" stroke-linecap="round"/>
<line x1="296.4" y1="1232.1" x2="334.5" y2="1232.1" stroke="#0070C0" stroke-width="5.2" stroke-linecap="round"/>
<text x="23.8" y="1287.3" font-size="32.6">SGF/SIF</text>
<text x="291.6" y="1287.7" font-size="32.3">FaSSGF/FaSSIF-V1</text>
</svg>
</body></html>
